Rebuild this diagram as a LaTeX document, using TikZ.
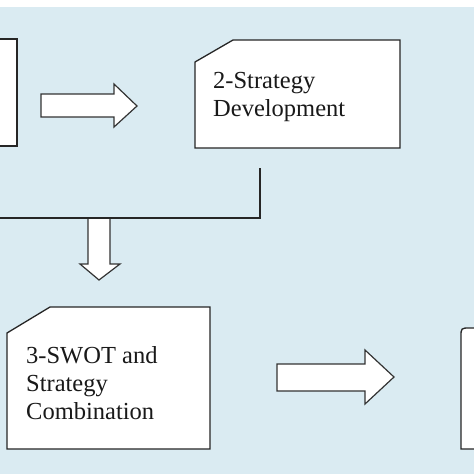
\documentclass[tikz,border=0pt]{standalone}
\usepackage{fontspec}
\setmainfont{Liberation Serif}
\definecolor{bgblue}{RGB}{218,235,242}
\begin{document}
\begin{tikzpicture}[x=1pt,y=-1pt,
  box/.style={draw=black!85, fill=white, line width=1.3pt, line join=miter},
  blockarrow/.style={draw=black!80, fill=white, line width=1.2pt, line join=miter},
  link/.style={draw=black!85, line width=1.3pt},
  lbl/.style={font=\fontsize{24.5}{28}\selectfont, align=left, anchor=north west, inner sep=0pt, text=black!90}]
\useasboundingbox (0,0) rectangle (474,474);
\fill[white] (0,0) rectangle (474,474);
\fill[bgblue] (0,7) rectangle (474,474);
% box 1 (cut off at left)
\draw[box] (-5,39) rectangle (17,146);
% box 2
\draw[box] (195,62) -- (233,40) -- (400,40) -- (400,148) -- (195,148) -- cycle;
\node[lbl] (t2) at (213,72) {2-Strategy\\Development};
% box 3
\draw[box] (7,333) -- (50,307) -- (210,307) -- (210,449) -- (7,449) -- cycle;
\node[lbl] (t3) at (26,346) {3-SWOT and\\Strategy\\Combination};
% box 4 (cut off at right)
\draw[box] (480,328) -- (470,328) .. controls (461,328) .. (461,337) -- (461,449) -- (480,449);
% arrow 1 -> 2
\draw[blockarrow] (41,94) -- (114,94) -- (114,84) -- (137,106) -- (114,127) -- (114,117) -- (41,117) -- cycle;
% connector from box 2 to row 2
\coordinate (c1) at (260,168);
\coordinate (c2) at (260,218);
\coordinate (c3) at (-2,218);
\draw[link] (c1) -- (c2) -- (c3);
% down arrow
\draw[blockarrow] (88,219) -- (88,264) -- (80,264) -- (99,280) -- (120,264) -- (110,264) -- (110,219);
% arrow 3 -> 4
\draw[blockarrow] (277,364) -- (365,364) -- (365,350) -- (394,377) -- (365,404) -- (365,391) -- (277,391) -- cycle;
\end{tikzpicture}
\end{document}
